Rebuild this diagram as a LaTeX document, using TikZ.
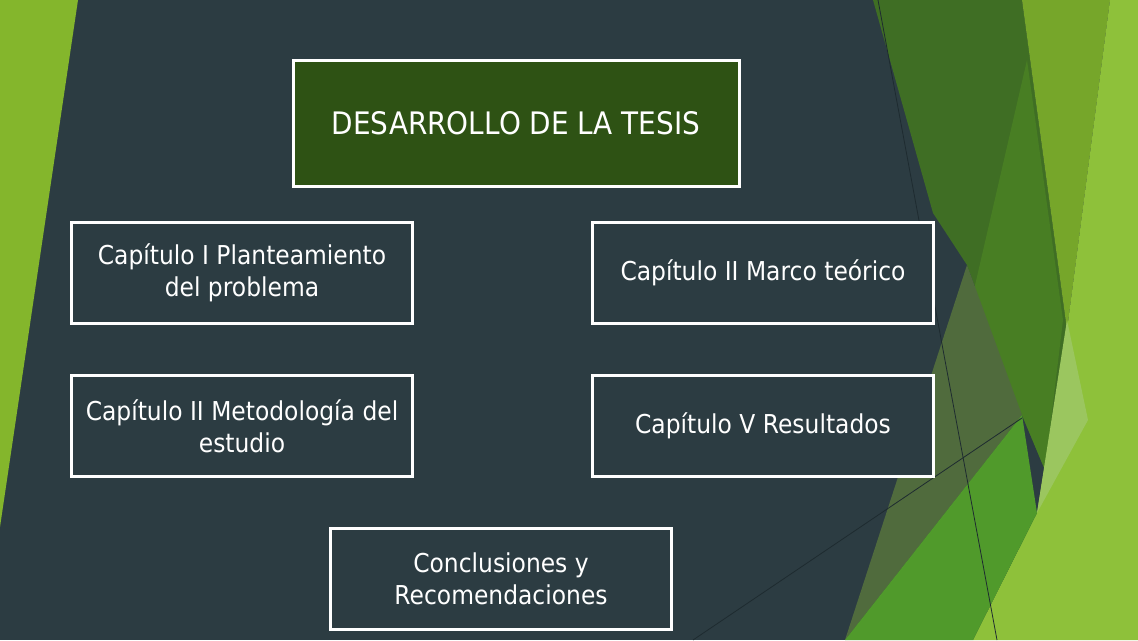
\documentclass[tikz,border=0pt]{standalone}
\usepackage{fontspec}
\setmainfont{DejaVu Sans}[FakeStretch=0.9]
\definecolor{slate}{HTML}{2C3C42}
\definecolor{titlegreen}{HTML}{2E5214}
\definecolor{leafgreen}{HTML}{84B62C}
\definecolor{darkgreen}{HTML}{3F6E24}
\definecolor{midgreen}{HTML}{487E23}
\definecolor{olivegreen}{HTML}{76A62A}
\definecolor{lightgreen}{HTML}{8EC13A}
\definecolor{palegreen}{HTML}{9BC65F}
\definecolor{brightgreen}{HTML}{509A2B}
\definecolor{greyolive}{HTML}{506B3D}
\definecolor{facetline}{HTML}{1E2B30}

\begin{document}
\begin{tikzpicture}[x=1pt, y=-1pt]
\tikzstyle{every node}=[inner sep=0pt, text=white, align=center]
\tikzstyle{chapbox}=[draw=white, line width=3pt, fill=slate, minimum width=341pt, minimum height=101pt, font=\fontsize{26}{32}\selectfont]
\tikzstyle{titlebox}=[chapbox, fill=titlegreen, minimum width=446pt, minimum height=126pt, font=\fontsize{31}{36}\selectfont]
% background and facets
\fill[slate] (0,0) rectangle (1138,640);
\useasboundingbox (0,0) rectangle (1138,640);
\fill[leafgreen] (0,0) -- (78,0) -- (0,527) -- cycle;
\fill[darkgreen] (873,0) -- (1022,0) -- (1067,330) -- (1045,470) -- (1022,415) -- (967,265) -- (933,213) -- cycle;
\fill[midgreen] (1027,60) -- (1063,320) -- (1045,470) -- (1022,415) -- (967,320) -- cycle;
\fill[olivegreen] (1022,0) -- (1110,0) -- (1067,330) -- cycle;
\fill[lightgreen] (1110,0) -- (1138,0) -- (1138,640) -- (973,640) -- (1037,513) -- (1067,330) -- cycle;
\fill[palegreen] (1067,320) -- (1088,420) -- (1037,513) -- cycle;
\fill[greyolive] (967,265) -- (1022,415) -- (845,640) -- cycle;
\fill[brightgreen] (845,640) -- (1022,415) -- (1037,513) -- (973,640) -- cycle;
\draw[facetline, line width=0.8pt] (878,0) -- (997,640);
\draw[facetline, line width=0.8pt] (693,640) -- (1022,418);
% boxes
\node (tesis) at (516,123) [titlebox] {DESARROLLO DE LA TESIS};
\node (cap1) at (242,273) [chapbox] {Capítulo I Planteamiento\\del problema};
\node (cap2) at (763,273) [chapbox] {Capítulo II Marco teórico};
\node (cap3) at (242,426) [chapbox] {Capítulo II Metodología del\\estudio};
\node (cap5) at (763,426) [chapbox] {Capítulo V Resultados};
\node (concl) at (501,579) [chapbox] {Conclusiones y\\Recomendaciones};
\end{tikzpicture}
\end{document}
